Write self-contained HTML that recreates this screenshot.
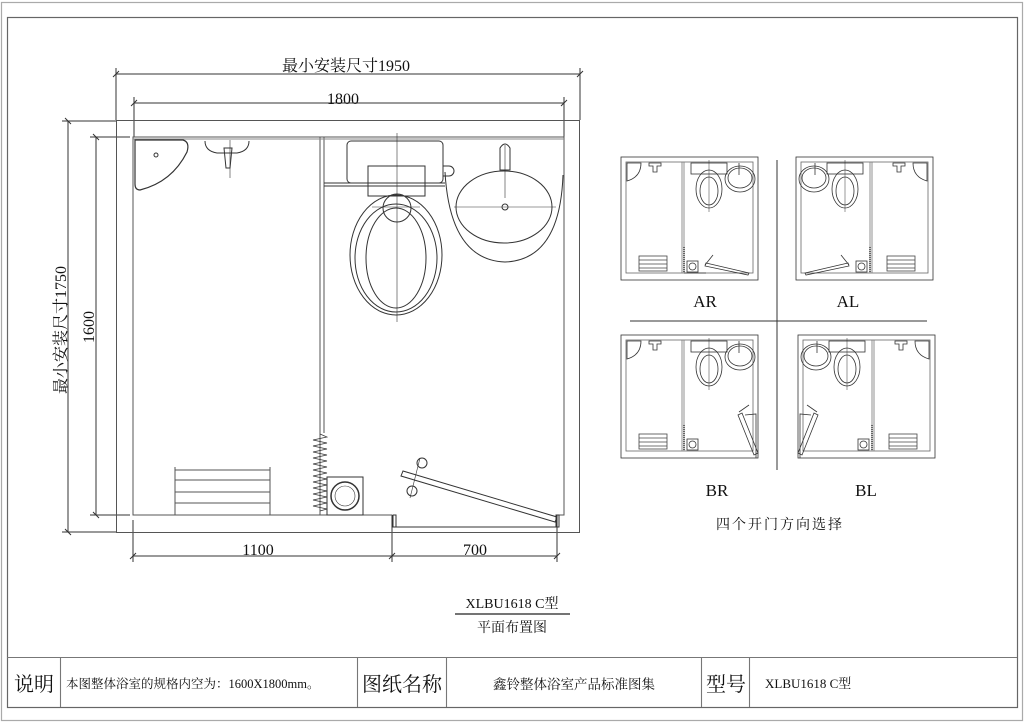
<!DOCTYPE html>
<html><head><meta charset="utf-8"><style>
html,body{margin:0;padding:0;background:#fff;}
svg{display:block;}
text{font-family:"Liberation Serif","Noto Serif CJK SC","Noto Sans CJK SC",serif;fill:#111;}
</style></head><body>
<svg width="1024" height="724" viewBox="0 0 1024 724" xmlns="http://www.w3.org/2000/svg">
<defs>
<g id="mini" fill="none" stroke="#333" stroke-width="0.8">
  <rect x="0" y="0" width="137" height="123"/>
  <rect x="5" y="5" width="127" height="111" stroke="#666"/>
  <line x1="61" y1="5" x2="61" y2="116" stroke="#777"/>
  <line x1="63" y1="5" x2="63" y2="116" stroke="#777"/>
  <path d="M6 6 H20 Q20 20 6 24 Z"/>
  <path d="M28 6 h12 v3 h-4 v6 h-4 v-6 h-4z"/>
  <rect x="70" y="6" width="36" height="11"/>
  <ellipse cx="88" cy="32" rx="13" ry="19"/>
  <ellipse cx="88" cy="34" rx="9" ry="14"/>
  <line x1="88" y1="3" x2="88" y2="55" stroke-width="0.5"/>
  <ellipse cx="119" cy="22" rx="15" ry="13"/>
  <ellipse cx="119" cy="21" rx="12" ry="10"/>
  <line x1="118" y1="6" x2="118" y2="18"/>
  <g stroke="#444"><rect x="18" y="99" width="28" height="15"/><line x1="18" y1="103" x2="46" y2="103"/><line x1="18" y1="107" x2="46" y2="107"/><line x1="18" y1="111" x2="46" y2="111"/></g>
  <rect x="66" y="104" width="11" height="11"/><circle cx="71.5" cy="109.5" r="3.5"/>
  <line x1="63" y1="90" x2="63" y2="115" stroke-dasharray="1 1" stroke-width="1.5"/>
</g>
</defs>
<!-- frames -->
<rect x="1.5" y="2.5" width="1021" height="718" fill="none" stroke="#aaa" stroke-width="1.2"/>
<rect x="7.5" y="17.5" width="1010" height="690" fill="none" stroke="#666" stroke-width="1.2"/>
<!-- table -->
<g stroke="#777" stroke-width="1.1">
<line x1="7" y1="657.5" x2="1017" y2="657.5"/>
<line x1="60.5" y1="657" x2="60.5" y2="707"/>
<line x1="357.5" y1="657" x2="357.5" y2="707"/>
<line x1="446.5" y1="657" x2="446.5" y2="707"/>
<line x1="701.5" y1="657" x2="701.5" y2="707"/>
<line x1="749.5" y1="657" x2="749.5" y2="707"/>
</g>
<text x="14" y="691" font-size="20">说明</text>
<text x="66" y="688" font-size="12.5">本图整体浴室的规格内空为：1600X1800mm。</text>
<text x="362" y="691" font-size="20">图纸名称</text>
<text x="574" y="689" font-size="13.5" text-anchor="middle">鑫铃整体浴室产品标准图集</text>
<text x="706" y="691" font-size="20">型号</text>
<text x="765" y="688" font-size="13">XLBU1618 C型</text>
<!-- title -->
<text x="512" y="608" font-size="14" text-anchor="middle">XLBU1618 C型</text>
<line x1="455" y1="614" x2="570" y2="614" stroke="#222" stroke-width="1.2"/>
<text x="512" y="632" font-size="14" text-anchor="middle">平面布置图</text>

<!-- main plan -->
<g fill="none" stroke="#333" stroke-width="1">
<!-- dimensions -->
<line x1="116" y1="74" x2="580" y2="74"/>
<line x1="116" y1="68" x2="116" y2="120"/><line x1="580" y1="68" x2="580" y2="120"/>
<line x1="113" y1="77" x2="119" y2="71"/><line x1="577" y1="77" x2="583" y2="71"/>
<line x1="134" y1="103" x2="564" y2="103"/>
<line x1="134" y1="97" x2="134" y2="137"/><line x1="564" y1="97" x2="564" y2="137"/>
<line x1="131" y1="106" x2="137" y2="100"/><line x1="561" y1="106" x2="567" y2="100"/>
<line x1="68" y1="121" x2="68" y2="532"/>
<line x1="62" y1="121" x2="116" y2="121"/><line x1="62" y1="532" x2="116" y2="532"/>
<line x1="65" y1="118" x2="71" y2="124"/><line x1="65" y1="529" x2="71" y2="535"/>
<line x1="96" y1="137" x2="96" y2="515"/>
<line x1="90" y1="137" x2="130" y2="137"/><line x1="90" y1="515" x2="130" y2="515"/>
<line x1="93" y1="134" x2="99" y2="140"/><line x1="93" y1="512" x2="99" y2="518"/>
<line x1="133" y1="556" x2="557" y2="556"/>
<line x1="133" y1="520" x2="133" y2="562"/><line x1="392" y1="515" x2="392" y2="562"/><line x1="557" y1="515" x2="557" y2="562"/>
<line x1="130" y1="559" x2="136" y2="553"/><line x1="389" y1="559" x2="395" y2="553"/><line x1="554" y1="559" x2="560" y2="553"/>
<!-- walls -->
<rect x="116.5" y="120.5" width="463" height="412" stroke="#555"/>
<path d="M392 515 H133 V137 H564 V515 H557" stroke="#555"/>
<line x1="320" y1="137" x2="320" y2="515" stroke="#555"/>
<line x1="324" y1="137" x2="324" y2="433" stroke="#555"/>
<line x1="133" y1="139" x2="564" y2="139" stroke="#888"/>
<!-- corner shelf -->
<path d="M135 140 H183 Q190 142 187 152 Q172 182 140 190 Q135 190 135 184 Z" stroke-width="1.2"/>
<circle cx="156" cy="155" r="2"/>
<!-- faucet -->
<path d="M205 141 q0 10 12 12 h20 q12 -2 12 -12"/>
<path d="M224 148 h8 l-2 20 h-4 z"/>
<line x1="230" y1="140" x2="230" y2="178" stroke-width="0.6"/>
<!-- toilet -->
<rect x="347" y="141" width="96" height="42" rx="4"/>
<line x1="324" y1="183" x2="445" y2="183"/><line x1="324" y1="186" x2="445" y2="186"/>
<rect x="368" y="166" width="57" height="30"/>
<ellipse cx="396" cy="255" rx="46" ry="60"/>
<ellipse cx="396" cy="258" rx="41" ry="54"/>
<ellipse cx="396" cy="258" rx="30" ry="50"/>
<circle cx="397" cy="208" r="14"/>
<line x1="397" y1="133" x2="397" y2="322" stroke-width="0.6"/>
<line x1="372" y1="207" x2="420" y2="207" stroke-width="0.6"/>
<path d="M443 166 h6 a4 4 0 0 1 0 10 h-6"/>
<!-- sink -->
<path d="M445 172 Q450 260 505 262 Q560 260 563 175"/>
<ellipse cx="504" cy="207" rx="48" ry="36"/>
<line x1="454" y1="207" x2="556" y2="207" stroke-width="0.6"/>
<circle cx="505" cy="207" r="3"/>
<path d="M500 148 q5 -8 10 0 v22 h-10 z"/>
<line x1="505" y1="145" x2="505" y2="198" stroke-width="0.6"/>
<!-- towel rack -->
<g stroke="#555">
<line x1="175" y1="467" x2="175" y2="515"/><line x1="270" y1="467" x2="270" y2="515"/>
<line x1="175" y1="470" x2="270" y2="470"/><line x1="175" y1="480" x2="270" y2="480"/>
<line x1="175" y1="492" x2="270" y2="492"/><line x1="175" y1="503" x2="270" y2="503"/>
</g>
<!-- spring -->
<path d="M320 434 l7 3 -14 3 14 3 -14 3 14 3 -14 3 14 3 -14 3 14 3 -14 3 14 3 -14 3 14 3 -14 3 14 3 -14 3 14 3 -14 3 14 3 -14 3 14 3 -14 3 14 3 -14 3 14 3 -7 2" stroke-width="0.7"/>
<!-- drain -->
<rect x="327" y="477" width="36" height="38"/>
<circle cx="345" cy="496" r="14" stroke-width="1.5"/>
<circle cx="345" cy="496" r="10" stroke-width="0.6"/>
<!-- door -->
<path d="M403 471 L557 517 L555 522 L401 476 Z"/>
<circle cx="422" cy="463" r="5"/><circle cx="412" cy="491" r="5"/>
<line x1="420" y1="458" x2="410" y2="498" stroke-width="0.6"/>
<rect x="393" y="515" width="3" height="12"/><rect x="556" y="515" width="3" height="12"/>
<line x1="396" y1="527" x2="556" y2="527"/>
</g>
<text x="346" y="71" font-size="16" text-anchor="middle">最小安装尺寸1950</text>
<text x="343" y="104" font-size="16" text-anchor="middle">1800</text>
<text x="258" y="555" font-size="16" text-anchor="middle">1100</text>
<text x="475" y="555" font-size="16" text-anchor="middle">700</text>
<text transform="translate(66 330) rotate(-90)" font-size="16" text-anchor="middle">最小安装尺寸1750</text>
<text transform="translate(94 327) rotate(-90)" font-size="16" text-anchor="middle">1600</text>

<!-- mini diagrams -->
<line x1="777" y1="160" x2="777" y2="470" stroke="#333"/>
<line x1="630" y1="321" x2="927" y2="321" stroke="#333"/>
<g transform="translate(621 157)"><use href="#mini"/>
<g fill="none" stroke="#333" stroke-width="0.8"><path d="M85 106 L128 116 L127 118 L84 109 Z"/><line x1="84" y1="108" x2="92" y2="98"/><line x1="63" y1="116" x2="85" y2="116"/></g></g>
<g transform="translate(933 157) scale(-1 1)"><use href="#mini"/>
<g fill="none" stroke="#333" stroke-width="0.8"><path d="M85 106 L128 116 L127 118 L84 109 Z"/><line x1="84" y1="108" x2="92" y2="98"/></g></g>
<g transform="translate(621 335)"><use href="#mini"/>
<g fill="none" stroke="#333" stroke-width="0.8"><path d="M124 80 L135 79 L135 123"/><path d="M121 78 L137 118 L133 120 L117 80 Z"/><line x1="118" y1="77" x2="128" y2="70"/></g></g>
<g transform="translate(935 335) scale(-1 1)"><use href="#mini"/>
<g fill="none" stroke="#333" stroke-width="0.8"><path d="M124 80 L135 79 L135 123"/><path d="M121 78 L137 118 L133 120 L117 80 Z"/><line x1="118" y1="77" x2="128" y2="70"/></g></g>
<text x="705" y="307" font-size="17" text-anchor="middle">AR</text>
<text x="848" y="307" font-size="17" text-anchor="middle">AL</text>
<text x="717" y="496" font-size="17" text-anchor="middle">BR</text>
<text x="866" y="496" font-size="17" text-anchor="middle">BL</text>
<text x="780" y="529" font-size="14" text-anchor="middle" letter-spacing="2">四个开门方向选择</text>
</svg>
</body></html>
